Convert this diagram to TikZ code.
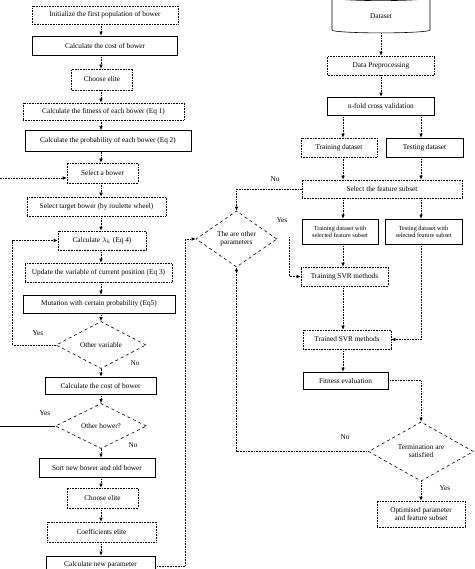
\documentclass[tikz,border=0pt]{standalone}
\usepackage{fontspec}
\setmainfont{Liberation Serif}
\usetikzlibrary{shapes.geometric,arrows.meta}
\newcommand{\ft}{\fontsize{7.3}{8}\selectfont}
\newcommand{\fts}{\fontsize{6.2}{7}\selectfont}

\begin{document}
\begin{tikzpicture}[x=1pt,y=-1pt,
   box/.style={draw, densely dotted, line width=0.6pt, inner sep=1pt, align=center, font=\ft},
   sbox/.style={draw, line width=0.7pt, inner sep=1pt, align=center, font=\ft},
   dec/.style={draw, dashed, line width=0.6pt, diamond, inner sep=0pt, align=center, font=\ft},
   flow/.style={densely dotted, line width=0.6pt, -{Latex[length=4pt,width=3.5pt]}},
   lab/.style={font=\ft}]
   \useasboundingbox (0,0) rectangle (474,569);
   % left column: bower search
   \coordinate (lx) at (101,0);
   \node[box,  minimum width=146pt, minimum height=18pt] (init)   at (105,15)    {Initialize the first population of bower};
   \node[sbox, minimum width=145pt, minimum height=19pt] (cost1)  at (105,45.5)  {Calculate the cost of bower};
   \node[box,  minimum width=61pt,  minimum height=21pt] (elite1) at (102,79.5)  {Choose elite};
   \node[box,  minimum width=161pt, minimum height=17pt] (fit)    at (103.5,111.5) {Calculate the fitness of each bower (Eq 1)};
   \node[sbox, minimum width=166pt, minimum height=21pt] (prob)   at (108,141)   {Calculate the probability of each bower (Eq 2)};
   \node[box,  minimum width=71pt,  minimum height=20pt] (selb)   at (102.5,173) {Select a bower};
   \node[box,  minimum width=139pt, minimum height=19pt] (target) at (96.5,206.5) {Select target bower (by roulette wheel)};
   \node[box,  minimum width=88pt,  minimum height=19pt] (lambda) at (102,240.5) {Calculate $\lambda_k$ (Eq 4)};
   \node[box,  minimum width=147pt, minimum height=19pt] (update) at (98.5,272.5) {Update the variable of current position (Eq 3)};
   \node[sbox, minimum width=152pt, minimum height=18pt] (mut)    at (99,304)    {Mutation with certain probability (Eq5)};
   \node[dec,  minimum width=90pt,  minimum height=36pt] (var)    at (101,345)   {Other variable};
   \node[sbox, minimum width=111pt, minimum height=17pt] (cost2)  at (100.5,385.5) {Calculate the cost of bower};
   \node[dec,  minimum width=91pt,  minimum height=35pt] (bower)  at (101,426)   {Other bower?};
   \node[sbox, minimum width=116pt, minimum height=19pt] (sort)   at (97,467.5)  {Sort new bower and old bower};
   \node[box,  minimum width=71pt,  minimum height=20pt] (elite2) at (102.5,498) {Choose elite};
   \node[box,  minimum width=109pt, minimum height=20pt] (coef)   at (101.5,532) {Coefficients elite};
   \node[sbox, minimum width=109pt, minimum height=20pt, text depth=4pt] (newpar) at (100.5,566) {Calculate new parameter};
   % right column: SVR
   \coordinate (rxa) at (343,0);
   \coordinate (rxb) at (421,0);
   \node[draw, line width=0.6pt, cylinder, shape border rotate=90, aspect=0.2, minimum width=98pt, minimum height=38pt, font=\ft] (dataset) at (381,16) {Dataset};
   \node[box,  minimum width=107pt, minimum height=19pt] (prep)    at (381,65.5)  {Data Preprocessing};
   \node[sbox, minimum width=107pt, minimum height=18pt] (nfold)   at (381,106)   {n-fold cross validation};
   \node[box,  minimum width=76pt,  minimum height=19pt] (trd)     at (339,147.5) {Training dataset};
   \node[sbox, minimum width=77pt,  minimum height=19pt] (ted)     at (424.5,147.5) {Testing dataset};
   \node[box,  minimum width=160pt, minimum height=18pt] (sel)     at (382,189)   {Select the feature subset};
   \node[sbox, minimum width=76pt,  minimum height=25pt, font=\fts] (trdsub)  at (340,231.5) {Training dataset with\\selected feature subset};
   \node[sbox, minimum width=77pt,  minimum height=25pt, font=\fts] (tedsub)  at (423.5,231.5) {Testing dataset with\\selected feature subset};
   \node[box,  minimum width=87pt,  minimum height=19pt] (svrtrain) at (344.5,276.5) {Training SVR methods};
   \node[box,  minimum width=88pt,  minimum height=19pt] (svrdone) at (347,339.5) {Trained SVR methods};
   \node[sbox, minimum width=85pt,  minimum height=17pt] (fiteval) at (345.5,380.5) {Fitness evaluation};
   \node[dec,  minimum width=105pt, minimum height=53pt] (term)    at (421,451.5) {Termination are\\satisfied};
   \node[box,  minimum width=88pt,  minimum height=26pt] (opt)     at (421,514)   {Optimised parameter\\and feature subset};
   \node[dec,  minimum width=81pt,  minimum height=56pt] (params)  at (236.5,239) {The are other\\parameters};
   % connectors, left
   \draw[flow] (init.south -| lx) -- (cost1.north -| lx);
   \draw[flow] (cost1.south -| lx) -- (elite1.north -| lx);
   \draw[flow] (elite1.south -| lx) -- (fit.north -| lx);
   \draw[flow] (fit.south -| lx) -- (prob.north -| lx);
   \draw[flow] (prob.south -| lx) -- (selb.north -| lx);
   \draw[flow] (selb.south -| lx) -- (target.north -| lx);
   \draw[flow] (target.south -| lx) -- (lambda.north -| lx);
   \draw[flow] (lambda.south -| lx) -- (update.north -| lx);
   \draw[flow] (update.south -| lx) -- (mut.north -| lx);
   \draw[flow] (mut.south -| lx) -- (var.north);
   \draw[flow] (var.south) -- (cost2.north -| lx);
   \draw[flow] (cost2.south -| lx) -- (bower.north);
   \draw[flow] (bower.south) -- (sort.north -| lx);
   \draw[flow] (sort.south -| lx) -- (elite2.north -| lx);
   \draw[flow] (elite2.south -| lx) -- (coef.north -| lx);
   \draw[flow] (coef.south -| lx) -- (newpar.north -| lx);
   \draw[flow] (var.west) -- ++(-43,0) |- (lambda.west);
   \coordinate (selin) at (-5,178);
   \coordinate (yesout) at (-5,426);
   \draw[flow] (selin) -- (selin -| selb.west);
   \draw[line width=0.7pt] (bower.west) -- (yesout);
   \draw[flow] (newpar.east) -- ++(30,0) |- (params.west);
   \draw (38,333) node[lab]{Yes};
   \draw (135,363) node[lab]{No};
   \draw (45,413) node[lab]{Yes};
   \draw (133,445) node[lab]{No};
   % connectors, right
   \draw[flow] (dataset.south) -- (prep.north);
   \draw[flow] (prep.south) -- (nfold.north);
   \draw[flow] (nfold.south -| rxa) -- (trd.north -| rxa);
   \draw[flow] (nfold.south -| rxb) -- (ted.north -| rxb);
   \draw[flow] (trd.south -| rxa) -- (sel.north -| rxa);
   \draw[flow] (ted.south -| rxb) -- (sel.north -| rxb);
   \draw[flow] (sel.south -| rxa) -- (trdsub.north -| rxa);
   \draw[flow] (sel.south -| rxb) -- (tedsub.north -| rxb);
   \draw[flow] (trdsub.south -| rxa) -- (svrtrain.north -| rxa);
   \draw[flow] (svrtrain.south -| rxa) -- (svrdone.north -| rxa);
   \draw[flow] (svrdone.south -| rxa) -- (fiteval.north -| rxa);
   \draw[flow] (tedsub.south -| rxb) |- (svrdone.east);
   \draw[flow] (fiteval.east) -| (term.north);
   \draw[flow] (term.south) -- (opt.north);
   \draw[flow] (sel.west) -| (params.north);
   \draw[flow] (term.west) -| (params.south);
   \coordinate (yesin) at (289,237);
   \draw[flow] (yesin) |- (svrtrain.west);
   \draw (275,179) node[lab]{No};
   \draw (282,220) node[lab]{Yes};
   \draw (345,437) node[lab]{No};
   \draw (445,488) node[lab]{Yes};
\end{tikzpicture}
\end{document}
